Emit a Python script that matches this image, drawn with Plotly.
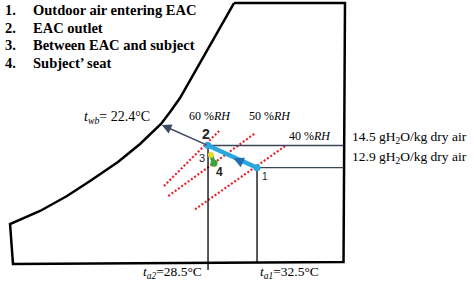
import plotly.graph_objects as go

# Psychrometric chart (schematic) - x: dry-bulb temperature (°C), y: humidity ratio (g/kg dry air)
sat_T = [30.62, 28.91, 27.07, 26.21, 25.40, 24.66, 22.95, 21.15, 18.87, 16.99, 14.79, 13.32, 12.34]
sat_W = [24.77, 22.10, 19.22, 17.92, 16.91, 16.05, 14.61, 13.31, 11.94, 10.86, 9.78, 9.20, 8.84]
frame_T = [12.34, 12.58, 39.56, 39.68, 30.62]
frame_W = [8.84, 5.96, 6.10, 24.77, 24.77]

# State points
point_labels = ["1", "2", "3", "4"]
point_T = [32.5, 28.5, 28.74, 28.99]
point_W = [12.9, 14.5, 13.82, 13.22]

t_a1, t_a2, t_wb = 32.5, 28.5, 22.4
w_1, w_2 = 12.9, 14.5
twb_sat_T, twb_sat_W = 24.72, 15.98
right_T = 39.56
bottom_W = [6.03, 5.53]

# RH lines (start/end)
rh_labels = ["60 %<i>RH</i>", "50 %<i>RH</i>", "40 %<i>RH</i>"]
rh_T = [[24.90, 29.48], [25.26, 32.34], [27.44, 34.92]]
rh_W = [[11.58, 15.62], [10.86, 15.38], [9.90, 14.54]]
rh_label_T = [28.66, 33.56, 36.83]
rh_label_W = [16.63, 16.63, 15.18]

legend_items = ["Outdoor air entering EAC", "EAC outlet", "Between EAC and subject", "Subject’ seat"]

SERIF = "Liberation Serif, Times New Roman, serif"
fig = go.Figure()

# chart outline
fig.add_trace(go.Scatter(x=sat_T + frame_T, y=sat_W + frame_W, mode="lines",
                         line=dict(color="black", width=2.5), hoverinfo="skip"))

# RH dotted lines
for tt, ww in zip(rh_T, rh_W):
    fig.add_trace(go.Scatter(x=tt, y=ww, mode="lines",
                             line=dict(color="#e8232f", width=2.2, dash="2px,2px")))

# horizontal and vertical guide lines
fig.add_trace(go.Scatter(x=[point_T[1], right_T], y=[w_2, w_2], mode="lines",
                         line=dict(color="#3a4656", width=1.3)))
fig.add_trace(go.Scatter(x=[point_T[0], right_T], y=[w_1, w_1], mode="lines",
                         line=dict(color="#3a4656", width=1.3)))
fig.add_trace(go.Scatter(x=[t_a2, t_a2], y=[w_2, bottom_W[1]], mode="lines",
                         line=dict(color="black", width=1.3)))
fig.add_trace(go.Scatter(x=[t_a1, t_a1], y=[w_1, bottom_W[0]], mode="lines",
                         line=dict(color="black", width=1.3)))

# process line 1 -> 2
fig.add_trace(go.Scatter(x=[point_T[0], point_T[1]], y=[point_W[0], point_W[1]], mode="lines+markers",
                         line=dict(color="#2aa7df", width=4.5), marker=dict(size=7, color="#2aa7df")))
# 3 -> 4
fig.add_trace(go.Scatter(x=[point_T[2], point_T[3]], y=[point_W[2], point_W[3]], mode="lines",
                         line=dict(color="#3aa53a", width=4)))
fig.add_trace(go.Scatter(x=[point_T[3]], y=[point_W[3]], mode="markers",
                         marker=dict(size=7, color="#3aa53a")))
fig.add_trace(go.Scatter(x=[point_T[2]], y=[point_W[2]], mode="markers",
                         marker=dict(size=6, color="#e5d92a")))

# wet-bulb arrow
fig.add_annotation(x=twb_sat_T, y=twb_sat_W, ax=point_T[1], ay=point_W[1], xref="x", yref="y",
                   axref="x", ayref="y", text="", showarrow=True, arrowhead=2, arrowsize=1.3,
                   arrowwidth=1.5, arrowcolor="#3c4a5e", standoff=0)
# mid arrow on blue line
mid_T = (point_T[0] + point_T[1]) / 2 + 0.07
mid_W = (point_W[0] + point_W[1]) / 2 - 0.12
fig.add_annotation(x=mid_T, y=mid_W, ax=mid_T + 0.9, ay=mid_W - 0.36, xref="x", yref="y",
                   axref="x", ayref="y", text="", showarrow=True, arrowhead=2, arrowsize=1.3,
                   arrowwidth=1.6, arrowcolor="#1f6fb0", standoff=0)

# text labels
fig.add_annotation(x=21.11, y=16.55, text="<i>t<sub>wb</sub></i>= %.1f°C" % t_wb, showarrow=False,
                   font=dict(family=SERIF, size=14, color="black"))
for lab, tx, wy in zip(rh_labels, rh_label_T, rh_label_W):
    fig.add_annotation(x=tx, y=wy, text=lab, showarrow=False,
                       font=dict(family=SERIF, size=12, color="black"))
fig.add_annotation(x=40.09, y=15.11, text="%.1f gH<sub>2</sub>O/kg dry air" % w_2, showarrow=False,
                   xanchor="left", font=dict(family=SERIF, size=13.5, color="black"))
fig.add_annotation(x=40.09, y=13.67, text="%.1f gH<sub>2</sub>O/kg dry air" % w_1, showarrow=False,
                   xanchor="left", font=dict(family=SERIF, size=13.5, color="black"))
fig.add_annotation(x=25.56, y=4.6, yanchor="bottom", text="<i>t<sub>a2</sub></i>=%.1f°C" % t_a2,
                   showarrow=False, font=dict(family=SERIF, size=13.5, color="black"))
fig.add_annotation(x=35.19, y=4.6, yanchor="bottom", text="<i>t<sub>a1</sub></i>=%.1f°C" % t_a1,
                   showarrow=False, font=dict(family=SERIF, size=13.5, color="black"))

pl_pos = [(33.15, 12.30, 10, "normal"), (28.34, 15.33, 14, "bold"), (28.01, 13.60, 11, "normal"),
          (29.40, 12.59, 12, "bold")]
for lab, (tx, wy, sz, wt) in zip(point_labels, pl_pos):
    fig.add_annotation(x=tx, y=wy, text=lab, showarrow=False,
                       font=dict(family="Liberation Sans, Arial, sans-serif", size=sz, color="#222",
                                 weight=wt))

for i, item in enumerate(legend_items):
    ypx = 10 + 17.6 * i
    fig.add_annotation(x=3 / 474, y=1 - ypx / 284, xref="paper", yref="paper", text="<b>%d.</b>" % (i + 1),
                       showarrow=False, xanchor="left", yanchor="middle",
                       font=dict(family=SERIF, size=14.5, color="black"))
    fig.add_annotation(x=31 / 474, y=1 - ypx / 284, xref="paper", yref="paper", text="<b>%s</b>" % item,
                       showarrow=False, xanchor="left", yanchor="middle",
                       font=dict(family=SERIF, size=14.5, color="black"))

fig.update_layout(width=474, height=284, margin=dict(l=0, r=0, t=0, b=0), showlegend=False,
                  plot_bgcolor="white", paper_bgcolor="white",
                  xaxis=dict(range=[11.52, 50.21], visible=False, fixedrange=True),
                  yaxis=dict(range=[4.518, 24.99], visible=False, fixedrange=True))
fig.write_html("out.html")
